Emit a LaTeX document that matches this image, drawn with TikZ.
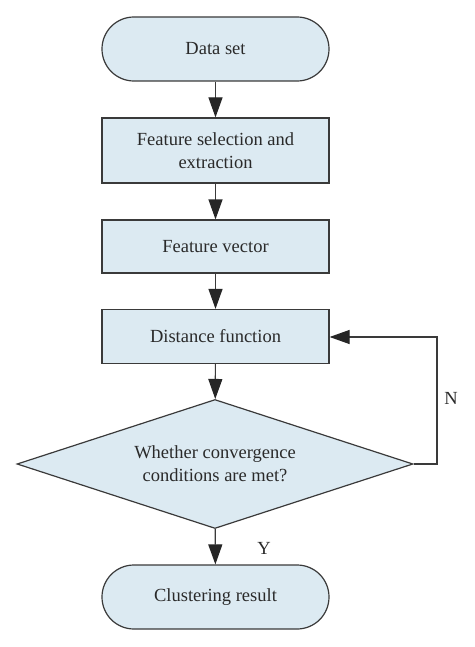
\documentclass[tikz,border=0pt]{standalone}
\usepackage{fontspec}
\setmainfont{Liberation Serif}[Ligatures=TeX]
\usetikzlibrary{shapes.geometric,arrows.meta}
\definecolor{boxfill}{HTML}{DCEAF2}
\definecolor{edge}{HTML}{3A3A3A}
\definecolor{txt}{HTML}{2A2A2A}
\begin{document}
\begin{tikzpicture}[x=1pt,y=-1pt,
  base/.style={draw=edge,fill=boxfill,line width=1.2pt,text=txt,font=\rmfamily\fontsize{18.5}{23}\selectfont,align=center,inner sep=0pt},
  term/.style={base,minimum width=227pt,minimum height=64pt,rounded corners=31.9pt},
  proc/.style={base,minimum width=227pt},
  decis/.style={base,diamond,aspect=3.07,minimum width=396pt,minimum height=129pt},
  conn/.style={draw=edge,line width=1.2pt,-{Triangle[length=20pt,width=14pt,color=black!85]}},
  lbl/.style={text=txt,font=\rmfamily\fontsize{18.5}{20}\selectfont,inner sep=0pt}]
\useasboundingbox (0,0) rectangle (474,647);
\node[term] (data) at (215.5,49) {Data set};
\node[proc,minimum height=65pt] (sel) at (215.5,150.5) {Feature selection and\\extraction};
\node[proc,minimum height=53pt] (vec) at (215.5,246.5) {Feature vector};
\node[proc,minimum height=54pt] (dist) at (215.5,336.5) {Distance function};
\node[decis] (dec) at (215,464) {Whether convergence\\conditions are met?};
\node[term] (res) at (215.5,597) {Clustering result};
\coordinate (corner1) at (437,464);
\coordinate (corner2) at (437,337);
\draw[conn] (data) -- (sel);
\draw[conn] (sel) -- (vec);
\draw[conn] (vec) -- (dist);
\draw[conn] (dist) -- (dec);
\draw[conn] (dec) -- (res);
\draw[conn] (dec.east) -- (corner1) -- (corner2) -- (dist.east |- corner2);
\node[lbl] (nlab) at (451,398) {N};
\node[lbl] (ylab) at (264,548) {Y};
\end{tikzpicture}
\end{document}
